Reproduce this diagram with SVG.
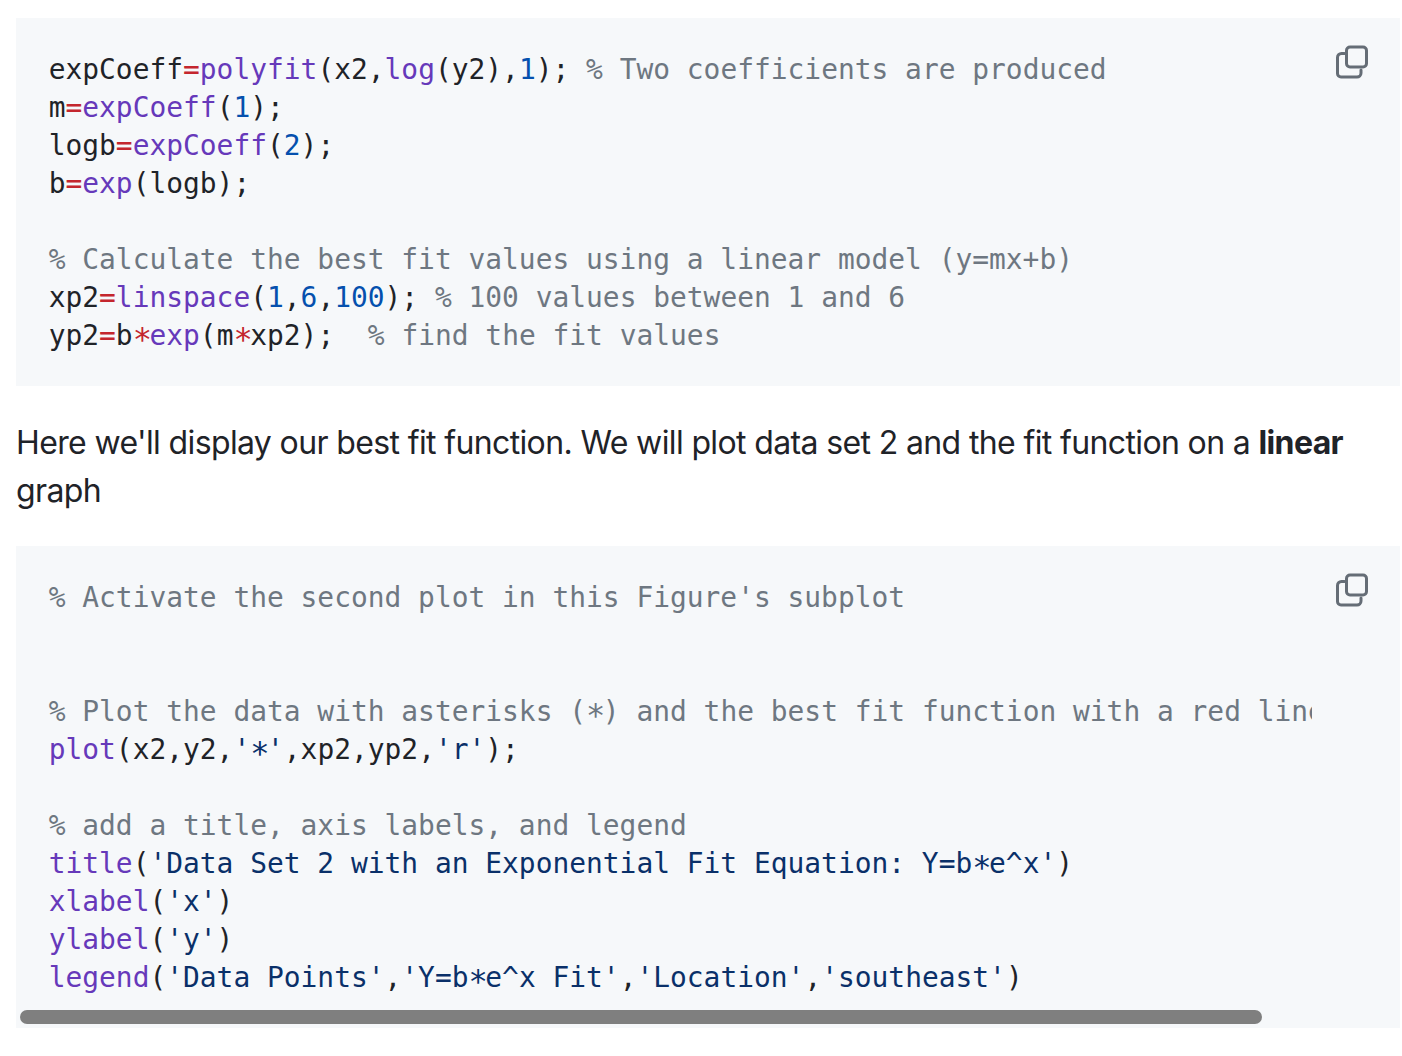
<svg xmlns="http://www.w3.org/2000/svg" width="1402" height="1056" viewBox="0 0 1402 1056">
<style>
.c{font-family:"DejaVu Sans Mono","Liberation Mono",monospace;font-size:27.9px;fill:#1f2328;white-space:pre}
.k{fill:#6639ba}.r{fill:#c4262e}.n{fill:#0550ae}.s{fill:#0a3069}.g{fill:#6e7781}
.a{font-size:32px;letter-spacing:-2.46px;baseline-shift:-5px}
.p{font-family:Inter,"Liberation Sans",sans-serif;font-size:32px;fill:#1f2328;letter-spacing:-0.63px}
.i{fill:none;stroke:#656d76;stroke-width:3;stroke-linejoin:round;stroke-linecap:round}
</style>
<defs>
<clipPath id="clip"><rect x="16" y="546" width="1296" height="482"/></clipPath>
<g id="copy"><path class="i" d="M1344.500 53.500h-3a4 4 0 0 0-4 4v16a3.500 3.500 0 0 0 3.500 3.500h16a4 4 0 0 0 4-4v-3"/><rect class="i" x="1346.500" y="47" width="20" height="20" rx="3.500"/></g>
</defs>
<rect width="1402" height="1056" fill="#ffffff"/>
<rect x="16" y="18" width="1384" height="368" fill="#f6f8fa"/>
<rect x="16" y="546" width="1384" height="482" fill="#f6f8fa"/>
<use href="#copy"/>
<use href="#copy" y="528"/>
<g id="code1" class="c" xml:space="preserve">
<text x="48.700" y="79">expCoeff<tspan class="r">=</tspan><tspan class="k">polyfit</tspan>(x2,<tspan class="k">log</tspan>(y2),<tspan class="n">1</tspan>); <tspan class="g">% Two coefficients are produced</tspan></text>
<text x="48.700" y="117">m<tspan class="r">=</tspan><tspan class="k">expCoeff</tspan>(<tspan class="n">1</tspan>);</text>
<text x="48.700" y="155">logb<tspan class="r">=</tspan><tspan class="k">expCoeff</tspan>(<tspan class="n">2</tspan>);</text>
<text x="48.700" y="193">b<tspan class="r">=</tspan><tspan class="k">exp</tspan>(logb);</text>
<text x="48.700" y="269" class="g">% Calculate the best fit values using a linear model (y=mx+b)</text>
<text x="48.700" y="307">xp2<tspan class="r">=</tspan><tspan class="k">linspace</tspan>(<tspan class="n">1</tspan>,<tspan class="n">6</tspan>,<tspan class="n">100</tspan>); <tspan class="g">% 100 values between 1 and 6</tspan></text>
<text x="48.700" y="345" xml:space="preserve">yp2<tspan class="r">=</tspan>b<tspan class="r a">*</tspan><tspan class="k">exp</tspan>(m<tspan class="r a">*</tspan>xp2);  <tspan class="g">% find the fit values</tspan></text>
</g>
<g id="paragraph" class="p">
<text x="16" y="454">Here we'll display our best fit function. We will plot data set 2 and the fit function on a <tspan font-weight="700">linear</tspan></text>
<text x="16" y="502">graph</text>
</g>
<g id="code2" class="c" clip-path="url(#clip)">
<text x="48.700" y="607" class="g">% Activate the second plot in this Figure's subplot</text>
<text x="48.700" y="721" class="g">% Plot the data with asterisks (<tspan class="a">*</tspan>) and the best fit function with a red line</text>
<text x="48.700" y="759"><tspan class="k">plot</tspan>(x2,y2,<tspan class="s">'<tspan class="a">*</tspan>'</tspan>,xp2,yp2,<tspan class="s">'r'</tspan>);</text>
<text x="48.700" y="835" class="g">% add a title, axis labels, and legend</text>
<text x="48.700" y="873"><tspan class="k">title</tspan>(<tspan class="s">'Data Set 2 with an Exponential Fit Equation: Y=b<tspan class="a">*</tspan>e^x'</tspan>)</text>
<text x="48.700" y="911"><tspan class="k">xlabel</tspan>(<tspan class="s">'x'</tspan>)</text>
<text x="48.700" y="949"><tspan class="k">ylabel</tspan>(<tspan class="s">'y'</tspan>)</text>
<text x="48.700" y="987"><tspan class="k">legend</tspan>(<tspan class="s">'Data Points'</tspan>,<tspan class="s">'Y=b<tspan class="a">*</tspan>e^x Fit'</tspan>,<tspan class="s">'Location'</tspan>,<tspan class="s">'southeast'</tspan>)</text>
</g>
<rect id="scrollbar" x="20" y="1010" width="1242" height="14" rx="7" fill="#7f7f7f"/>
</svg>
